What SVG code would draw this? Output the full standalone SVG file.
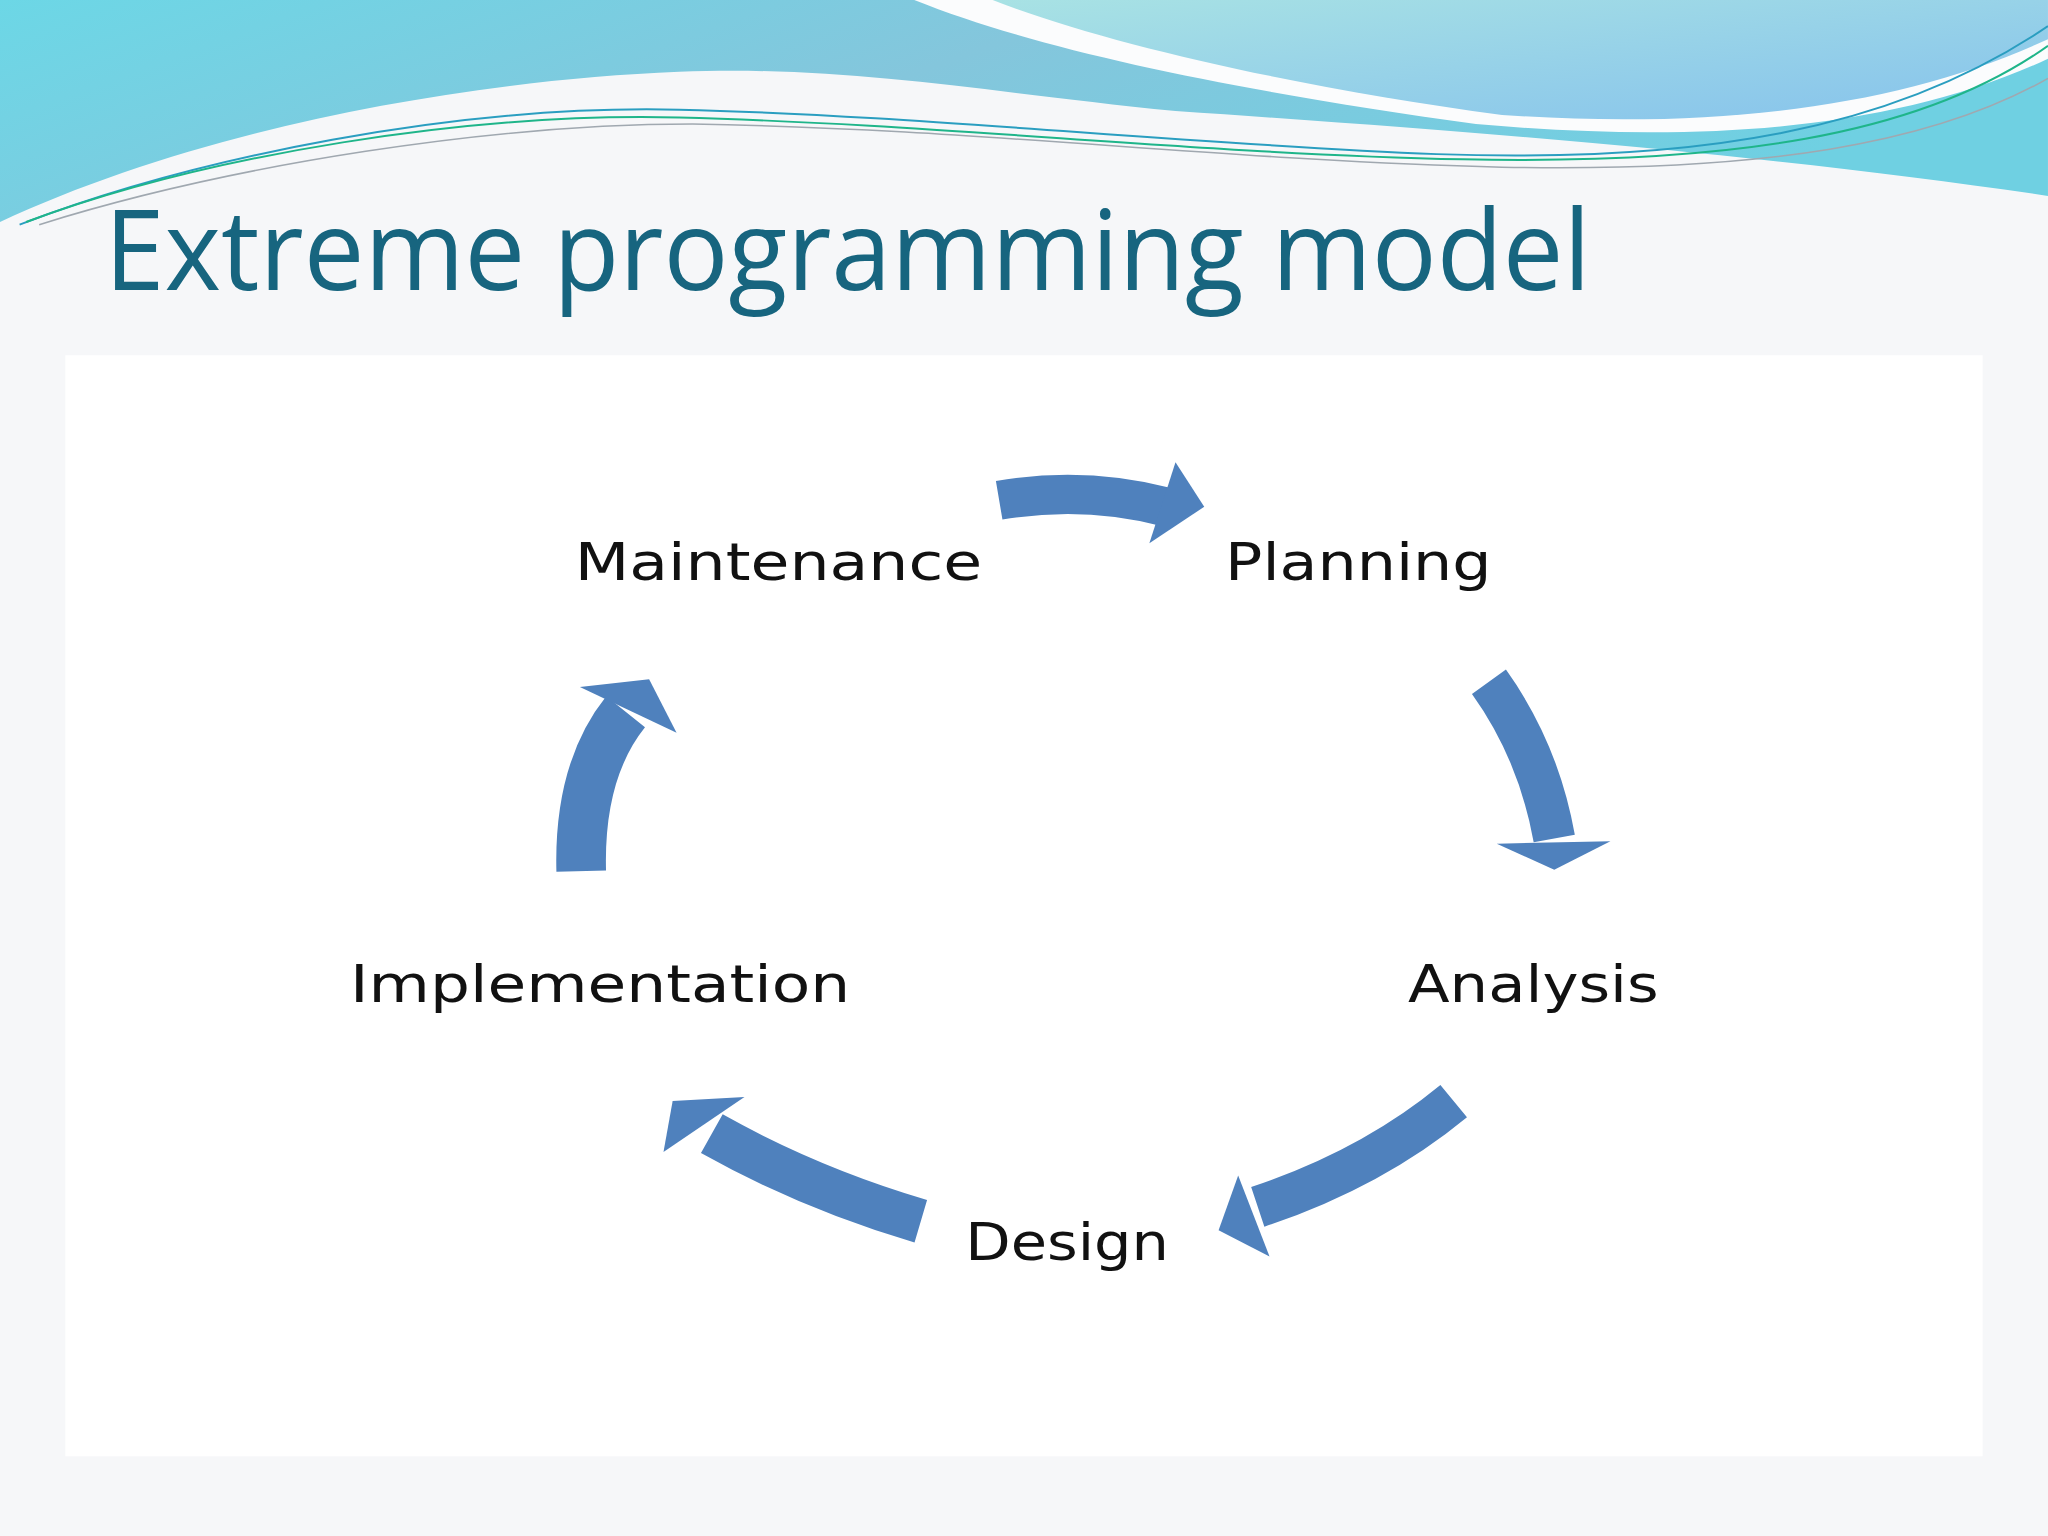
<svg xmlns="http://www.w3.org/2000/svg" width="2048" height="1536" viewBox="0 0 2048 1536">
<defs>
<linearGradient id="wave" x1="0" y1="0" x2="1" y2="0.3">
<stop offset="0" stop-color="#6cd7e6"/>
<stop offset="0.5" stop-color="#84c6dc"/>
<stop offset="1" stop-color="#6fd0e2"/>
</linearGradient>
<linearGradient id="wave2" x1="0" y1="0" x2="1" y2="1">
<stop offset="0" stop-color="#a8e2e4"/>
<stop offset="1" stop-color="#86c2ec"/>
</linearGradient>
<style>
.lbl{font-family:"DejaVu Sans",Verdana,sans-serif;font-size:40px;fill:#111}
.arr{fill:none;stroke:#4f81bd}
.head{fill:#4f81bd}
</style>
</defs>
<rect width="2048" height="1536" fill="#f6f7f9"/>
<g transform="scale(1.3061)">
<path d="M0,0 L1568,0 L1568,150 C1400,125 1200,105 900,85 C750,70 650,50 520,55 C350,62 150,100 0,170 Z" fill="url(#wave)"/>
<path d="M700,0 C800,40 950,70 1130,95 C1300,110 1450,100 1568,45 L1568,0 Z" fill="#fbfcfd"/>
<path d="M760,0 C850,35 1000,68 1150,88 C1320,100 1460,80 1568,30 L1568,0 Z" fill="url(#wave2)"/>
<path d="M15,172 C150,120 350,80 520,84 C700,88 900,110 1100,118 C1300,125 1450,100 1568,20" fill="none" stroke="#2a9ec0" stroke-width="1.5"/>
<path d="M20,170 C160,118 360,86 520,90 C720,95 920,118 1120,122 C1320,126 1470,105 1568,35" fill="none" stroke="#1fb58a" stroke-width="1.5"/>
<path d="M30,172 C180,125 380,95 530,95 C740,98 940,123 1150,128 C1350,132 1480,110 1568,60" fill="none" stroke="#a0a8b0" stroke-width="1.2"/>
<rect x="50" y="272" width="1468" height="843" fill="#ffffff"/>
<text x="80" y="222" font-family="'Open Sans','Liberation Sans',sans-serif" font-size="86" fill="#17657f" textLength="1138" lengthAdjust="spacingAndGlyphs">Extreme programming model</text>
<g id="connectors">
<path class="arr" stroke-width="30" d="M765,383 Q830,372 892,388"/>
<polygon class="head" points="900,354 922,388 880,416"/>
<path class="arr" stroke-width="32" d="M1140,522 Q1178,575 1190,642"/>
<polygon class="head" points="1146,646 1190,666 1233,644"/>
<path class="arr" stroke-width="32" d="M1113,843 Q1050,895 963,924"/>
<polygon class="head" points="948,900 933,942 972,962"/>
<path class="arr" stroke-width="34" d="M705,935 Q620,910 545,868"/>
<polygon class="head" points="570,840 515,843 508,882"/>
<path class="arr" stroke-width="38" d="M445,667 Q443,590 479,545"/>
<polygon class="head" points="444,526 497,520 518,561"/>
</g>
<g id="maintenance"><text class="lbl" x="440" y="444" textLength="312" lengthAdjust="spacingAndGlyphs">Maintenance</text></g>
<g id="planning"><text class="lbl" x="938" y="444" textLength="204" lengthAdjust="spacingAndGlyphs">Planning</text></g>
<g id="analysis"><text class="lbl" x="1078" y="767" textLength="192" lengthAdjust="spacingAndGlyphs">Analysis</text></g>
<g id="implementation"><text class="lbl" x="268" y="767" textLength="383" lengthAdjust="spacingAndGlyphs">Implementation</text></g>
<g id="design"><text class="lbl" x="739" y="965" textLength="156" lengthAdjust="spacingAndGlyphs">Design</text></g>
</g>
</svg>
